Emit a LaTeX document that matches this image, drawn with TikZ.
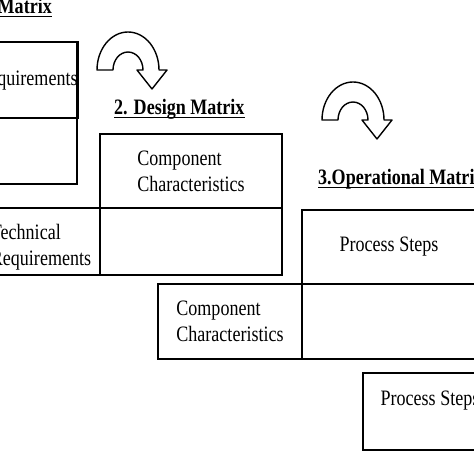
\documentclass[tikz,border=0pt]{standalone}
\usepackage{fontspec}
\setmainfont{Liberation Serif}[FakeStretch=0.82]
\usetikzlibrary{positioning}

\begin{document}
\begin{tikzpicture}[x=1pt,y=1pt,
	cell/.style={draw,line width=2.4pt,anchor=north west,inner sep=0pt,outer sep=0pt,align=left,font=\fontsize{22}{26}\selectfont},
	title/.style={inner sep=0pt,font=\fontsize{22}{26}\selectfont\bfseries},
	turn/.pic={
		\draw[line width=1.4pt,line join=round] (-31,0) arc[start angle=180,end angle=0,x radius=31,y radius=38] -- (39,0) -- (24,-19) -- (9,0) -- (15,0) arc[start angle=0,end angle=180,x radius=15,y radius=18] -- cycle;
	}]
	\useasboundingbox (0,0) rectangle (474,-474);
	\clip (0,0) rectangle (474,-474);

	% titles
	\node[title,anchor=base east] (T1) at (52,-13) {1. Planning Matrix};
	\node[title,anchor=base west] (T2) at (114,-114) {2. Design Matrix};
	\node[title,anchor=base west] (T3) at (318,-184) {3.Operational Matrix};
	\draw[line width=1.6pt] ([yshift=-3.5pt]T1.base west) -- ([yshift=-3.5pt]T1.base east);
	\draw[line width=1.6pt] ([yshift=-3.5pt]T2.base west) -- ([yshift=-3.5pt]T2.base east);
	\draw[line width=1.6pt] ([yshift=-3.5pt]T3.base west) -- ([yshift=-3.5pt]T3.base east);

	\begin{scope}[every node/.style={cell}]
		% matrix 1
		\node[minimum width=174pt,minimum height=76pt] (M1top) at (-97,-42) {Technical Requirements};
		\node[minimum width=174pt,minimum height=66pt,below=0pt of M1top] (M1body) {};
		% matrix 2
		\node[minimum width=182pt,minimum height=74pt] (M2top) at (100,-134) {Component\\Characteristics};
		\node[minimum width=182pt,minimum height=67pt,below=0pt of M2top] (M2body) {};
		\node[minimum width=118pt,minimum height=67pt,left=0pt of M2body] (M2left) {\rule{0pt}{27pt}Technical\\Requirements};
		% matrix 3
		\node[minimum width=174pt,minimum height=74pt] (M3top) at (302,-210) {Process Steps};
		\node[minimum width=174pt,minimum height=75pt,below=0pt of M3top] (M3body) {};
		\node[minimum width=144pt,minimum height=75pt,left=0pt of M3body] (M3left) {Component\\Characteristics};
		% matrix 4
		\node[minimum width=134pt,minimum height=77pt] (M4left) at (363,-373) {Process Steps\\~};
	\end{scope}

	\pic at (128,-70) {turn};
	\pic at (353,-120) {turn};
\end{tikzpicture}
\end{document}
